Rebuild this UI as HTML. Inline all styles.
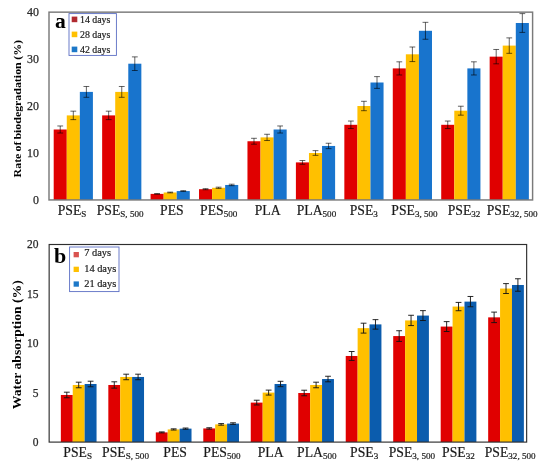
<!DOCTYPE html>
<html><head><meta charset="utf-8"><title>Figure</title>
<style>
html,body{margin:0;padding:0;background:#fff}
svg{display:block}
text{font-family:"Liberation Serif",serif;fill:#1a1a1a}
.xl{font-size:13.7px;stroke:#1a1a1a;stroke-width:0.2px}
.sub{font-size:9.1px}
.yt{font-size:11.9px;fill:#2a2a2a;stroke:#2a2a2a;stroke-width:0.25px}
.yl{font-size:12.3px;font-weight:bold;fill:#000}
.lg{font-size:10.1px;fill:#222;stroke:#222;stroke-width:0.2px}
.pl{font-size:21.6px;font-weight:bold;fill:#000}
</style></head><body>
<svg width="550" height="469" viewBox="0 0 550 469">
<rect width="550" height="469" fill="#fff"/>
<rect x="53.70" y="129.50" width="13.07" height="70.50" fill="#e00000"/>
<rect x="66.77" y="115.40" width="13.07" height="84.60" fill="#ffc000"/>
<rect x="79.84" y="91.90" width="13.07" height="108.10" fill="#1874cd"/>
<path d="M60.23 125.97V133.03M57.34 125.97H63.13M57.34 133.03H63.13" stroke="rgba(0,0,0,0.72)" stroke-width="0.85" fill="none"/>
<path d="M73.31 111.17V119.63M70.41 111.17H76.21M70.41 119.63H76.21" stroke="rgba(0,0,0,0.72)" stroke-width="0.85" fill="none"/>
<path d="M86.38 86.49V97.30M83.47 86.49H89.28M83.47 97.30H89.28" stroke="rgba(0,0,0,0.72)" stroke-width="0.85" fill="none"/>
<rect x="102.14" y="115.40" width="13.07" height="84.60" fill="#e00000"/>
<rect x="115.21" y="91.90" width="13.07" height="108.10" fill="#ffc000"/>
<rect x="128.28" y="63.70" width="13.07" height="136.30" fill="#1874cd"/>
<path d="M108.67 111.17V119.63M105.77 111.17H111.58M105.77 119.63H111.58" stroke="rgba(0,0,0,0.72)" stroke-width="0.85" fill="none"/>
<path d="M121.75 86.49V97.30M118.84 86.49H124.65M118.84 97.30H124.65" stroke="rgba(0,0,0,0.72)" stroke-width="0.85" fill="none"/>
<path d="M134.81 56.88V70.51M131.91 56.88H137.72M131.91 70.51H137.72" stroke="rgba(0,0,0,0.72)" stroke-width="0.85" fill="none"/>
<rect x="150.58" y="193.89" width="13.07" height="6.11" fill="#e00000"/>
<rect x="163.65" y="192.48" width="13.07" height="7.52" fill="#ffc000"/>
<rect x="176.72" y="191.07" width="13.07" height="8.93" fill="#1874cd"/>
<path d="M157.11 193.58V194.20M154.21 193.58H160.01M154.21 194.20H160.01" stroke="rgba(0,0,0,0.72)" stroke-width="0.85" fill="none"/>
<path d="M170.18 192.10V192.86M167.28 192.10H173.08M167.28 192.86H173.08" stroke="rgba(0,0,0,0.72)" stroke-width="0.85" fill="none"/>
<path d="M183.25 190.62V191.52M180.35 190.62H186.15M180.35 191.52H186.15" stroke="rgba(0,0,0,0.72)" stroke-width="0.85" fill="none"/>
<rect x="199.02" y="189.19" width="13.07" height="10.81" fill="#e00000"/>
<rect x="212.09" y="187.78" width="13.07" height="12.22" fill="#ffc000"/>
<rect x="225.16" y="184.96" width="13.07" height="15.04" fill="#1874cd"/>
<path d="M205.55 188.65V189.73M202.65 188.65H208.45M202.65 189.73H208.45" stroke="rgba(0,0,0,0.72)" stroke-width="0.85" fill="none"/>
<path d="M218.62 187.17V188.39M215.72 187.17H221.52M215.72 188.39H221.52" stroke="rgba(0,0,0,0.72)" stroke-width="0.85" fill="none"/>
<path d="M231.69 184.21V185.71M228.79 184.21H234.59M228.79 185.71H234.59" stroke="rgba(0,0,0,0.72)" stroke-width="0.85" fill="none"/>
<rect x="247.46" y="141.25" width="13.07" height="58.75" fill="#e00000"/>
<rect x="260.53" y="137.40" width="13.07" height="62.60" fill="#ffc000"/>
<rect x="273.60" y="129.50" width="13.07" height="70.50" fill="#1874cd"/>
<path d="M253.99 138.31V144.19M251.09 138.31H256.89M251.09 144.19H256.89" stroke="rgba(0,0,0,0.72)" stroke-width="0.85" fill="none"/>
<path d="M267.06 134.27V140.53M264.17 134.27H269.96M264.17 140.53H269.96" stroke="rgba(0,0,0,0.72)" stroke-width="0.85" fill="none"/>
<path d="M280.13 125.97V133.03M277.24 125.97H283.03M277.24 133.03H283.03" stroke="rgba(0,0,0,0.72)" stroke-width="0.85" fill="none"/>
<rect x="295.90" y="162.40" width="13.07" height="37.60" fill="#e00000"/>
<rect x="308.97" y="153.00" width="13.07" height="47.00" fill="#ffc000"/>
<rect x="322.04" y="145.95" width="13.07" height="54.05" fill="#1874cd"/>
<path d="M302.44 160.52V164.28M299.54 160.52H305.33M299.54 164.28H305.33" stroke="rgba(0,0,0,0.72)" stroke-width="0.85" fill="none"/>
<path d="M315.50 150.65V155.35M312.61 150.65H318.40M312.61 155.35H318.40" stroke="rgba(0,0,0,0.72)" stroke-width="0.85" fill="none"/>
<path d="M328.57 143.25V148.65M325.68 143.25H331.47M325.68 148.65H331.47" stroke="rgba(0,0,0,0.72)" stroke-width="0.85" fill="none"/>
<rect x="344.34" y="124.80" width="13.07" height="75.20" fill="#e00000"/>
<rect x="357.41" y="106.00" width="13.07" height="94.00" fill="#ffc000"/>
<rect x="370.48" y="82.50" width="13.07" height="117.50" fill="#1874cd"/>
<path d="M350.88 121.04V128.56M347.98 121.04H353.77M347.98 128.56H353.77" stroke="rgba(0,0,0,0.72)" stroke-width="0.85" fill="none"/>
<path d="M363.94 101.30V110.70M361.05 101.30H366.84M361.05 110.70H366.84" stroke="rgba(0,0,0,0.72)" stroke-width="0.85" fill="none"/>
<path d="M377.01 76.62V88.38M374.12 76.62H379.91M374.12 88.38H379.91" stroke="rgba(0,0,0,0.72)" stroke-width="0.85" fill="none"/>
<rect x="392.78" y="68.40" width="13.07" height="131.60" fill="#e00000"/>
<rect x="405.85" y="54.30" width="13.07" height="145.70" fill="#ffc000"/>
<rect x="418.92" y="30.80" width="13.07" height="169.20" fill="#1874cd"/>
<path d="M399.31 61.82V74.98M396.42 61.82H402.21M396.42 74.98H402.21" stroke="rgba(0,0,0,0.72)" stroke-width="0.85" fill="none"/>
<path d="M412.38 47.01V61.58M409.49 47.01H415.28M409.49 61.58H415.28" stroke="rgba(0,0,0,0.72)" stroke-width="0.85" fill="none"/>
<path d="M425.45 22.34V39.26M422.56 22.34H428.35M422.56 39.26H428.35" stroke="rgba(0,0,0,0.72)" stroke-width="0.85" fill="none"/>
<rect x="441.22" y="124.80" width="13.07" height="75.20" fill="#e00000"/>
<rect x="454.29" y="110.70" width="13.07" height="89.30" fill="#ffc000"/>
<rect x="467.36" y="68.40" width="13.07" height="131.60" fill="#1874cd"/>
<path d="M447.75 121.04V128.56M444.86 121.04H450.65M444.86 128.56H450.65" stroke="rgba(0,0,0,0.72)" stroke-width="0.85" fill="none"/>
<path d="M460.82 106.23V115.17M457.93 106.23H463.72M457.93 115.17H463.72" stroke="rgba(0,0,0,0.72)" stroke-width="0.85" fill="none"/>
<path d="M473.89 61.82V74.98M471.00 61.82H476.79M471.00 74.98H476.79" stroke="rgba(0,0,0,0.72)" stroke-width="0.85" fill="none"/>
<rect x="489.66" y="56.65" width="13.07" height="143.35" fill="#e00000"/>
<rect x="502.73" y="45.60" width="13.07" height="154.40" fill="#ffc000"/>
<rect x="515.80" y="23.00" width="13.07" height="177.00" fill="#1874cd"/>
<path d="M496.19 49.48V63.82M493.30 49.48H499.09M493.30 63.82H499.09" stroke="rgba(0,0,0,0.72)" stroke-width="0.85" fill="none"/>
<path d="M509.26 37.89V53.32M506.37 37.89H512.16M506.37 53.32H512.16" stroke="rgba(0,0,0,0.72)" stroke-width="0.85" fill="none"/>
<path d="M522.33 13.60V32.40M519.43 13.60H525.23M519.43 32.40H525.23" stroke="rgba(0,0,0,0.72)" stroke-width="0.85" fill="none"/>
<rect x="49.0" y="12.15" width="483.60" height="187.80" fill="none" stroke="#7a7a7a" stroke-width="1.45"/>
<text x="57.70" y="215.4" class="xl">PSE<tspan class="sub" dy="1.5">S</tspan></text>
<text x="96.70" y="215.4" class="xl">PSE<tspan class="sub" dy="1.5">S, 500</tspan></text>
<text x="160.10" y="215.4" class="xl">PES</text>
<text x="200.10" y="215.4" class="xl">PES<tspan class="sub" dy="1.5">500</tspan></text>
<text x="254.70" y="215.4" class="xl">PLA</text>
<text x="296.70" y="215.4" class="xl">PLA<tspan class="sub" dy="1.5">500</tspan></text>
<text x="349.70" y="215.4" class="xl">PSE<tspan class="sub" dy="1.5">3</tspan></text>
<text x="391.30" y="215.4" class="xl">PSE<tspan class="sub" dy="1.5">3, 500</tspan></text>
<text x="447.70" y="215.4" class="xl">PSE<tspan class="sub" dy="1.5">32</tspan></text>
<text x="486.70" y="215.4" class="xl">PSE<tspan class="sub" dy="1.5">32, 500</tspan></text>
<text x="39.0" y="204.30" text-anchor="end" class="yt" style="font-size:11.9px">0</text>
<text x="39.0" y="157.30" text-anchor="end" class="yt" style="font-size:11.9px">10</text>
<text x="39.0" y="110.30" text-anchor="end" class="yt" style="font-size:11.9px">20</text>
<text x="39.0" y="63.30" text-anchor="end" class="yt" style="font-size:11.9px">30</text>
<text x="39.0" y="16.30" text-anchor="end" class="yt" style="font-size:11.9px">40</text>
<text class="yl" transform="translate(20.8,177.4) rotate(-90) scale(1,0.92)" style="font-size:11.9px;word-spacing:-0.9px">Rate of biodegradation <tspan dx="0.5">(%)</tspan></text>
<rect x="69" y="13.6" width="47.4" height="41.8" fill="#fff" stroke="#5b6ec4" stroke-width="0.9"/>
<rect x="71.7" y="16.60" width="5.6" height="5.6" fill="#b02a30"/>
<text x="80" y="22.60" class="lg" style="font-size:9.85px">14 days</text>
<rect x="71.7" y="31.60" width="5.6" height="5.6" fill="#ffc000"/>
<text x="80" y="37.60" class="lg" style="font-size:9.85px">28 days</text>
<rect x="71.7" y="46.60" width="5.6" height="5.6" fill="#1c78c8"/>
<text x="80" y="52.60" class="lg" style="font-size:9.85px">42 days</text>
<text class="pl" x="55" y="27.6">a</text>
<rect x="60.85" y="394.98" width="11.90" height="47.02" fill="#e00000"/>
<rect x="72.75" y="384.98" width="11.90" height="57.02" fill="#ffc000"/>
<rect x="84.65" y="383.99" width="11.90" height="58.01" fill="#0b5cad"/>
<path d="M66.80 392.20V397.75M63.90 392.20H69.70M63.90 397.75H69.70" stroke="#111" stroke-width="0.9" fill="none"/>
<path d="M78.70 382.20V387.75M75.80 382.20H81.60M75.80 387.75H81.60" stroke="#111" stroke-width="0.9" fill="none"/>
<path d="M90.60 381.21V386.76M87.70 381.21H93.50M87.70 386.76H93.50" stroke="#111" stroke-width="0.9" fill="none"/>
<rect x="108.33" y="384.98" width="11.90" height="57.02" fill="#e00000"/>
<rect x="120.23" y="376.96" width="11.90" height="65.04" fill="#ffc000"/>
<rect x="132.13" y="376.96" width="11.90" height="65.04" fill="#0b5cad"/>
<path d="M114.28 381.81V388.14M111.38 381.81H117.18M111.38 388.14H117.18" stroke="#111" stroke-width="0.9" fill="none"/>
<path d="M126.18 374.19V379.73M123.28 374.19H129.08M123.28 379.73H129.08" stroke="#111" stroke-width="0.9" fill="none"/>
<path d="M138.08 374.19V379.73M135.18 374.19H140.98M135.18 379.73H140.98" stroke="#111" stroke-width="0.9" fill="none"/>
<rect x="155.81" y="432.40" width="11.90" height="9.60" fill="#e00000"/>
<rect x="167.71" y="429.43" width="11.90" height="12.57" fill="#ffc000"/>
<rect x="179.61" y="428.63" width="11.90" height="13.37" fill="#0b5cad"/>
<path d="M161.76 431.90V432.89M158.86 431.90H164.66M158.86 432.89H164.66" stroke="#111" stroke-width="0.9" fill="none"/>
<path d="M173.66 428.83V430.02M170.76 428.83H176.56M170.76 430.02H176.56" stroke="#111" stroke-width="0.9" fill="none"/>
<path d="M185.56 428.04V429.23M182.66 428.04H188.46M182.66 429.23H188.46" stroke="#111" stroke-width="0.9" fill="none"/>
<rect x="203.29" y="428.44" width="11.90" height="13.56" fill="#e00000"/>
<rect x="215.19" y="424.38" width="11.90" height="17.62" fill="#ffc000"/>
<rect x="227.09" y="423.59" width="11.90" height="18.41" fill="#0b5cad"/>
<path d="M209.24 427.74V429.13M206.34 427.74H212.14M206.34 429.13H212.14" stroke="#111" stroke-width="0.9" fill="none"/>
<path d="M221.14 423.59V425.17M218.24 423.59H224.04M218.24 425.17H224.04" stroke="#111" stroke-width="0.9" fill="none"/>
<path d="M233.04 422.79V424.38M230.14 422.79H235.94M230.14 424.38H235.94" stroke="#111" stroke-width="0.9" fill="none"/>
<rect x="250.77" y="402.60" width="11.90" height="39.40" fill="#e00000"/>
<rect x="262.67" y="392.60" width="11.90" height="49.40" fill="#ffc000"/>
<rect x="274.57" y="383.99" width="11.90" height="58.01" fill="#0b5cad"/>
<path d="M256.72 400.22V404.97M253.82 400.22H259.62M253.82 404.97H259.62" stroke="#111" stroke-width="0.9" fill="none"/>
<path d="M268.62 390.12V395.07M265.72 390.12H271.52M265.72 395.07H271.52" stroke="#111" stroke-width="0.9" fill="none"/>
<path d="M280.52 381.31V386.66M277.62 381.31H283.42M277.62 386.66H283.42" stroke="#111" stroke-width="0.9" fill="none"/>
<rect x="298.25" y="393.00" width="11.90" height="49.00" fill="#e00000"/>
<rect x="310.15" y="384.98" width="11.90" height="57.02" fill="#ffc000"/>
<rect x="322.05" y="379.04" width="11.90" height="62.96" fill="#0b5cad"/>
<path d="M304.20 390.22V395.77M301.30 390.22H307.10M301.30 395.77H307.10" stroke="#111" stroke-width="0.9" fill="none"/>
<path d="M316.10 382.20V387.75M313.20 382.20H319.00M313.20 387.75H319.00" stroke="#111" stroke-width="0.9" fill="none"/>
<path d="M328.00 376.26V381.81M325.10 376.26H330.90M325.10 381.81H330.90" stroke="#111" stroke-width="0.9" fill="none"/>
<rect x="345.73" y="355.97" width="11.90" height="86.03" fill="#e00000"/>
<rect x="357.63" y="328.15" width="11.90" height="113.85" fill="#ffc000"/>
<rect x="369.53" y="324.39" width="11.90" height="117.61" fill="#0b5cad"/>
<path d="M351.68 351.51V360.42M348.78 351.51H354.58M348.78 360.42H354.58" stroke="#111" stroke-width="0.9" fill="none"/>
<path d="M363.58 323.20V333.10M360.68 323.20H366.48M360.68 333.10H366.48" stroke="#111" stroke-width="0.9" fill="none"/>
<path d="M375.48 319.64V329.14M372.58 319.64H378.38M372.58 329.14H378.38" stroke="#111" stroke-width="0.9" fill="none"/>
<rect x="393.21" y="336.07" width="11.90" height="105.93" fill="#e00000"/>
<rect x="405.11" y="320.43" width="11.90" height="121.57" fill="#ffc000"/>
<rect x="417.01" y="315.58" width="11.90" height="126.42" fill="#0b5cad"/>
<path d="M399.16 330.72V341.42M396.26 330.72H402.06M396.26 341.42H402.06" stroke="#111" stroke-width="0.9" fill="none"/>
<path d="M411.06 315.28V325.58M408.16 315.28H413.96M408.16 325.58H413.96" stroke="#111" stroke-width="0.9" fill="none"/>
<path d="M422.96 310.63V320.53M420.06 310.63H425.86M420.06 320.53H425.86" stroke="#111" stroke-width="0.9" fill="none"/>
<rect x="440.69" y="326.57" width="11.90" height="115.43" fill="#e00000"/>
<rect x="452.59" y="306.57" width="11.90" height="135.43" fill="#ffc000"/>
<rect x="464.49" y="301.62" width="11.90" height="140.38" fill="#0b5cad"/>
<path d="M446.64 321.62V331.52M443.74 321.62H449.54M443.74 331.52H449.54" stroke="#111" stroke-width="0.9" fill="none"/>
<path d="M458.54 302.41V310.73M455.64 302.41H461.44M455.64 310.73H461.44" stroke="#111" stroke-width="0.9" fill="none"/>
<path d="M470.44 296.47V306.77M467.54 296.47H473.34M467.54 306.77H473.34" stroke="#111" stroke-width="0.9" fill="none"/>
<rect x="488.17" y="317.36" width="11.90" height="124.64" fill="#e00000"/>
<rect x="500.07" y="288.55" width="11.90" height="153.45" fill="#ffc000"/>
<rect x="511.97" y="284.99" width="11.90" height="157.01" fill="#0b5cad"/>
<path d="M494.12 312.11V322.61M491.22 312.11H497.02M491.22 322.61H497.02" stroke="#111" stroke-width="0.9" fill="none"/>
<path d="M506.02 283.60V293.50M503.12 283.60H508.92M503.12 293.50H508.92" stroke="#111" stroke-width="0.9" fill="none"/>
<path d="M517.92 278.75V291.22M515.02 278.75H520.82M515.02 291.22H520.82" stroke="#111" stroke-width="0.9" fill="none"/>
<rect x="49.15" y="244.5" width="477.50" height="197.60" fill="none" stroke="#2e2e2e" stroke-width="1.15"/>
<text x="63.30" y="457.4" class="xl">PSE<tspan class="sub" dy="1.5">S</tspan></text>
<text x="102.10" y="457.4" class="xl">PSE<tspan class="sub" dy="1.5">S, 500</tspan></text>
<text x="163.30" y="457.4" class="xl">PES</text>
<text x="203.30" y="457.4" class="xl">PES<tspan class="sub" dy="1.5">500</tspan></text>
<text x="257.70" y="457.4" class="xl">PLA</text>
<text x="297.10" y="457.4" class="xl">PLA<tspan class="sub" dy="1.5">500</tspan></text>
<text x="350.10" y="457.4" class="xl">PSE<tspan class="sub" dy="1.5">3</tspan></text>
<text x="388.70" y="457.4" class="xl">PSE<tspan class="sub" dy="1.5">3, 500</tspan></text>
<text x="442.10" y="457.4" class="xl">PSE<tspan class="sub" dy="1.5">32</tspan></text>
<text x="484.70" y="457.4" class="xl">PSE<tspan class="sub" dy="1.5">32, 500</tspan></text>
<text x="38.4" y="446.20" text-anchor="end" class="yt" style="font-size:11.5px">0</text>
<text x="38.4" y="396.70" text-anchor="end" class="yt" style="font-size:11.5px">5</text>
<text x="38.4" y="347.20" text-anchor="end" class="yt" style="font-size:11.5px">10</text>
<text x="38.4" y="297.70" text-anchor="end" class="yt" style="font-size:11.5px">15</text>
<text x="38.4" y="248.20" text-anchor="end" class="yt" style="font-size:11.5px">20</text>
<text class="yl" transform="translate(20.8,409.2) rotate(-90) scale(1,0.87)" style="font-size:13.7px;word-spacing:0px">Water absorption (%)</text>
<rect x="69.6" y="247" width="49.4" height="44.6" fill="#fff" stroke="#5b6ec4" stroke-width="0.9"/>
<rect x="73.6" y="252.00" width="5.3" height="5.3" fill="#d9534f"/>
<text x="84.2" y="255.90" class="lg" style="font-size:10.4px">7 days</text>
<rect x="73.6" y="266.70" width="5.3" height="5.3" fill="#ffc000"/>
<text x="84.2" y="271.70" class="lg" style="font-size:10.4px">14 days</text>
<rect x="73.6" y="281.40" width="5.3" height="5.3" fill="#1c78c8"/>
<text x="84.2" y="287.20" class="lg" style="font-size:10.4px">21 days</text>
<text class="pl" x="54" y="263" style="font-size:22px">b</text>
</svg>
</body></html>
